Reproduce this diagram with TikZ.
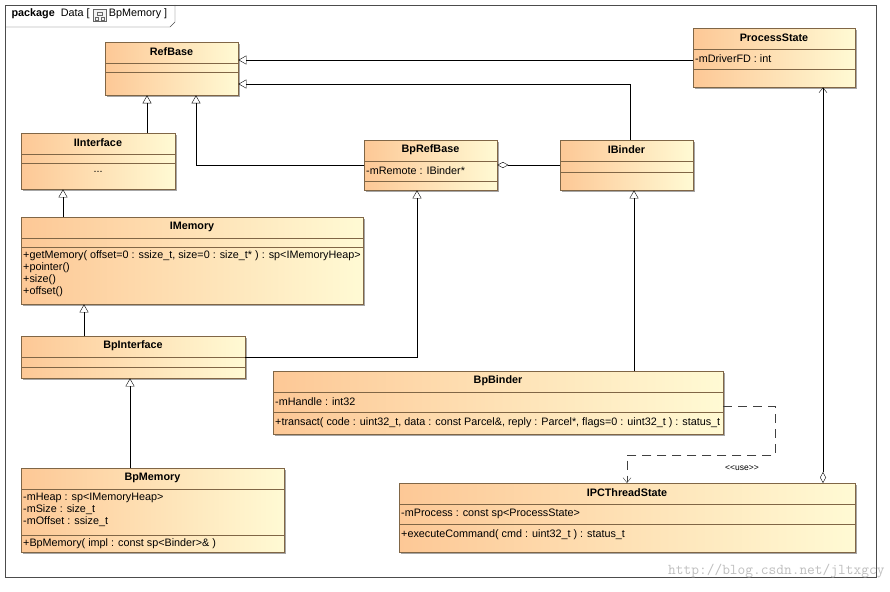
\documentclass[tikz,border=0pt]{standalone}
\usepackage{fontspec}
\setmainfont{Liberation Sans}
\usetikzlibrary{arrows.meta,shadows}
\definecolor{clsleft}{RGB}{253,200,150}
\definecolor{clsright}{RGB}{255,250,212}
\definecolor{clsline}{RGB}{128,102,70}
\tikzset{
  cls/.style={draw=clsline, left color=clsleft, right color=clsright, anchor=north west,
    inner sep=0pt, drop shadow={shadow xshift=2pt, shadow yshift=-2pt, fill=black!35, opacity=1}},
  ttl/.style={font=\fontsize{10.8}{12}\selectfont\bfseries},
  mem/.style={font=\fontsize{10.8}{12}\selectfont, anchor=west, inner sep=0pt},
  cmp/.style={draw=clsline},
  inh/.style={-{Triangle[open,length=8pt,width=9pt]}},
  agg/.style={{Diamond[open,length=11pt,width=6pt]}-},
  use/.style={dashed, dash pattern=on 9pt off 6pt, -{Straight Barb[length=5pt,width=8pt]}}
}
\newcommand{\umlbox}[6]{% name, x1, y1, x2, y2, title
  \node[cls, minimum width=#4pt-#2pt, minimum height=#5pt-#3pt] (#1) at (#2,#3) {};
  \node[ttl] (#1-ttl) at ({(#2+#4)/2},{#3+10}) {#6};
}
\begin{document}
\begin{tikzpicture}[x=1pt,y=-1pt]
    \useasboundingbox[fill=white] (0,0) rectangle (890,591);
    % package frame
    \draw[black!70] (5,5) rectangle (876,577);
    \draw[black!70] (5,27) -- (170,27) -- (175,22) -- (175,5);
    \node[anchor=west, font=\fontsize{10.8}{12}\selectfont] (pkg) at (8,15)
      {\textbf{package}\ \ Data [ \tikz[baseline=-1pt]{\draw[black!60,fill=black!5] (0,5) rectangle (13,-7);
        \draw[black!60] (4,-4) rectangle (9,-1) (2,1) rectangle (5,4) (8,1) rectangle (11,4);} BpMemory ]};
    %
    \umlbox{refbase}{105}{42}{238}{95}{RefBase}
    \draw[cmp] (105,63) -- (238,63);
    \draw[cmp] (105,72) -- (238,72);
    %
    \umlbox{iinterface}{21}{133}{175}{189}{IInterface}
    \draw[cmp] (21,154) -- (175,154);
    \draw[cmp] (21,163) -- (175,163);
    \node[mem, anchor=center] (iinterface-dots) at (98,172) {...};
    %
    \umlbox{imemory}{21}{217}{363}{304}{IMemory}
    \draw[cmp] (21,238) -- (363,238);
    \draw[cmp] (21,247) -- (363,247);
    \node[mem] (imemory-m1) at (23,256) {+getMemory( offset=0 : ssize\_t, size=0 : size\_t* ) : sp<IMemoryHeap>};
    \node[mem] (imemory-m2) at (23,268) {+pointer()};
    \node[mem] (imemory-m3) at (23,280) {+size()};
    \node[mem] (imemory-m4) at (23,292) {+offset()};
    %
    \umlbox{bpinterface}{21}{336}{245}{378}{BpInterface}
    \draw[cmp] (21,357) -- (245,357);
    \draw[cmp] (21,367) -- (245,367);
    %
    \umlbox{bpmemory}{21}{468}{284}{552}{BpMemory}
    \draw[cmp] (21,489) -- (284,489);
    \draw[cmp] (21,535) -- (284,535);
    \node[mem] (bpmemory-a1) at (23,498) {-mHeap : sp<IMemoryHeap>};
    \node[mem] (bpmemory-a2) at (23,510) {-mSize : size\_t};
    \node[mem] (bpmemory-a3) at (23,522) {-mOffset : ssize\_t};
    \node[mem] (bpmemory-m1) at (23,544) {+BpMemory( impl : const sp<Binder>\& )};
    %
    \umlbox{bprefbase}{364}{140}{497}{190}{BpRefBase}
    \draw[cmp] (364,161) -- (497,161);
    \draw[cmp] (364,181) -- (497,181);
    \node[mem] (bprefbase-a1) at (366,171) {-mRemote : IBinder*};
    %
    \umlbox{ibinder}{560}{140}{693}{190}{IBinder}
    \draw[cmp] (560,161) -- (693,161);
    \draw[cmp] (560,172) -- (693,172);
    %
    \umlbox{processstate}{693}{28}{855}{87}{ProcessState}
    \draw[cmp] (693,49) -- (855,49);
    \draw[cmp] (693,69) -- (855,69);
    \node[mem] (processstate-a1) at (695,59) {-mDriverFD : int};
    %
    \umlbox{bpbinder}{273}{371}{723}{434}{BpBinder}
    \draw[cmp] (273,392) -- (723,392);
    \draw[cmp] (273,412) -- (723,412);
    \node[mem] (bpbinder-a1) at (275,402) {-mHandle : int32};
    \node[mem] (bpbinder-m1) at (275,423) {+transact( code : uint32\_t, data : const Parcel\&, reply : Parcel*, flags=0 : uint32\_t ) : status\_t};
    %
    \umlbox{ipcthreadstate}{399}{483}{855}{552}{IPCThreadState}
    \draw[cmp] (399,504) -- (855,504);
    \draw[cmp] (399,524) -- (855,524);
    \node[mem] (ipcthreadstate-a1) at (401,514) {-mProcess : const sp<ProcessState>};
    \node[mem] (ipcthreadstate-m1) at (401,535) {+executeCommand( cmd : uint32\_t ) : status\_t};
    %
    % generalizations
    \draw[inh] ([xshift=126pt]iinterface.north west) -- ([xshift=126pt]iinterface.north west |- refbase.south);
    \draw[inh] ([yshift=-25pt]bprefbase.north west) -| ([xshift=91pt]refbase.south west);
    \draw[inh] ([yshift=-32pt]processstate.north west) -- ([yshift=-32pt]processstate.north west -| refbase.east);
    \draw[inh] ([xshift=70pt]ibinder.north west) |- ([yshift=-42pt]refbase.north east);
    \draw[inh] ([xshift=42pt]imemory.north west) -- ([xshift=42pt]imemory.north west |- iinterface.south);
    \draw[inh] ([xshift=63pt]bpinterface.north west) -- ([xshift=63pt]bpinterface.north west |- imemory.south);
    \draw[inh] ([yshift=-21pt]bpinterface.north east) -| ([xshift=53pt]bprefbase.south west);
    \draw[inh] ([xshift=109pt]bpmemory.north west) -- ([xshift=109pt]bpmemory.north west |- bpinterface.south);
    \draw[inh] ([xshift=361pt]bpbinder.north west) -- ([xshift=361pt]bpbinder.north west |- ibinder.south);
    %
    % aggregations and usage
    \draw[agg] ([yshift=-25pt]bprefbase.north east) -- ([yshift=-25pt]ibinder.north west);
    \draw[{Diamond[open,length=11pt,width=6pt]}-{Straight Barb[length=5pt,width=8pt]}] ([xshift=424pt]ipcthreadstate.north west) -- ([xshift=424pt]ipcthreadstate.north west |- processstate.south);
    \coordinate (use-a) at ([xshift=52pt,yshift=-35pt]bpbinder.north east);
    \coordinate (use-b) at ([xshift=228pt,yshift=28pt]ipcthreadstate.north west);
    \draw[use, black!75] ([yshift=-35pt]bpbinder.north east) -- (use-a) -- (use-a |- use-b) -- (use-b) -- ([xshift=228pt]ipcthreadstate.north west);
    \node[font=\fontsize{8.5}{10}\selectfont] (use-lbl) at (742,468) {<{}<use>{}>};
    %
    \node[font=\fontsize{15}{16}\ttfamily, text=black!25, anchor=east] (mark) at (888,571) {http://blog.csdn.net/jltxgcy};
\end{tikzpicture}
\end{document}
